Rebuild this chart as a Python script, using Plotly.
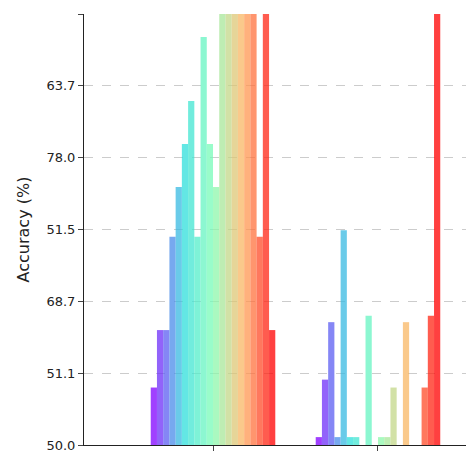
import plotly.graph_objects as go
import plotly.express as px

# Two groups, 20 series each (heights in tick-step units)
groups = [0, 1]
group1 = [0.80, 1.6, 1.6, 2.9, 3.59, 4.19, 4.79, 2.9, 5.68, 4.19,
          3.59, 6.5, 6.5, 6.5, 6.5, 6.5, 6.5, 2.9, 6.5, 1.6]
group2 = [0.11, 0.91, 1.71, 0.11, 2.99, 0.11, 0.11, 0, 1.8, 0,
          0.11, 0.11, 0.8, 0, 1.71, 0, 0, 0.8, 1.8, 6.5]
tick_labels = ["50.0", "51.1", "68.7", "51.5", "78.0", "63.7", "62.5"]

colors = px.colors.sample_colorscale(
    [[0, "#8000ff"], [0.25, "#2adddd"], [0.5, "#80ffb4"], [0.75, "#ffb360"], [1, "#ff0000"]],
    [i / 19 for i in range(20)])

fig = go.Figure()
for i in range(20):
    fig.add_trace(go.Bar(x=groups, y=[group1[i], group2[i]],
                         marker_color=colors[i], marker_opacity=0.75,
                         marker_line_width=0, showlegend=False))

# plot area spans 431px for the axis range
fig.update_layout(
    width=474, height=457, barmode="group", bargap=0.245, bargroupgap=0,
    margin=dict(l=76, r=8, t=6, b=20),
    plot_bgcolor="white", paper_bgcolor="white",
    font=dict(family="DejaVu Sans", size=13, color="#222"),
)
fig.update_xaxes(range=[-0.782, 1.582], tickvals=groups, ticktext=["", ""],
                 ticks="outside", ticklen=5, showline=True, linecolor="#222",
                 showgrid=False)
fig.update_yaxes(range=[0, 6.0], tickvals=list(range(7)), ticktext=tick_labels,
                 ticks="outside", ticklen=5, showline=True, linecolor="#222",
                 showgrid=True, gridcolor="#cccccc", griddash="dash",
                 title=dict(text="Accuracy (%)", font=dict(size=16), standoff=12),
                 zeroline=False)

fig.write_html("out.html")
